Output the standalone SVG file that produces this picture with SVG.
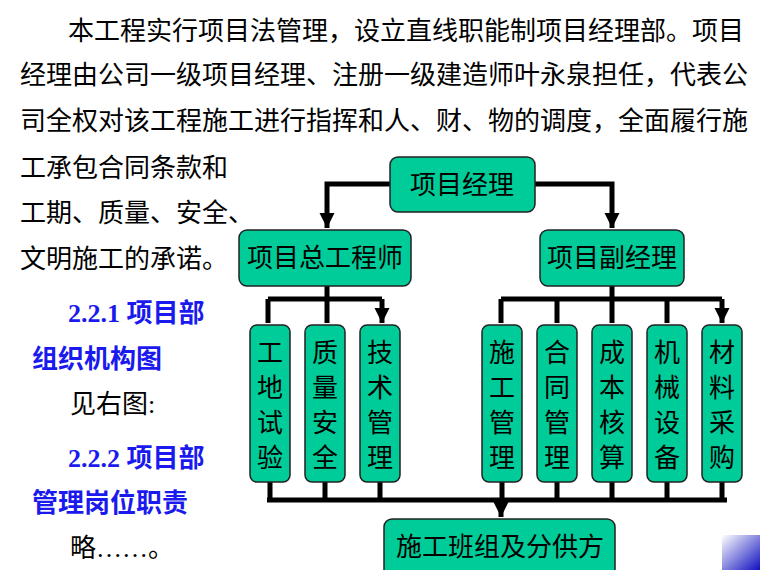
<svg xmlns="http://www.w3.org/2000/svg" width="760" height="570" viewBox="0 0 760 570">
<style>
.p{font-family:"Liberation Serif","Noto Sans CJK SC",serif;font-size:26px;fill:#000}
.b{font-family:"Liberation Serif","Noto Sans CJK SC",serif;font-size:26px;fill:#1a1aee;font-weight:bold}
.bx{fill:#00cc99;stroke:#222;stroke-width:1.5}
.t{font-family:"Noto Sans CJK SC",sans-serif;font-size:26px;fill:#000;text-anchor:middle}
.c{stroke:#000;stroke-width:5;fill:none}
</style>
<defs>
<marker id="a" viewBox="0 0 10 10" refX="10" refY="5" markerWidth="3" markerHeight="3.4" orient="auto" markerUnits="strokeWidth"><path d="M0,0L10,5L0,10z" fill="#000"/></marker>
<linearGradient id="g" x1="0" y1="0" x2="1" y2="1"><stop offset="0" stop-color="#fff"/><stop offset="1" stop-color="#1010c0"/></linearGradient>
</defs>
<rect width="760" height="570" fill="#fff"/>
<text class="p" x="68" y="40">本工程实行项目法管理，设立直线职能制项目经理部。项目</text>
<text class="p" x="20" y="84">经理由公司一级项目经理、注册一级建造师叶永泉担任，代表公</text>
<text class="p" x="20" y="130">司全权对该工程施工进行指挥和人、财、物的调度，全面履行施</text>
<text class="p" x="20" y="177">工承包合同条款和</text>
<text class="p" x="20" y="222">工期、质量、安全、</text>
<text class="p" x="20" y="268">文明施工的承诺。</text>
<text class="b" x="68" y="322">2.2.1 项目部</text>
<text class="b" x="32" y="368" font-weight="normal">组织机构图</text>
<text class="p" x="70" y="413">见右图:</text>
<text class="b" x="68" y="467">2.2.2 项目部</text>
<text class="b" x="32" y="512" font-weight="normal">管理岗位职责</text>
<text class="p" x="70" y="557">略……。</text>
<rect x="722" y="535" width="38" height="35" fill="url(#g)"/>
<g id="connectors">
<path class="c" d="M390,184H327V228" marker-end="url(#a)"/>
<path class="c" d="M535,184H612V228" marker-end="url(#a)"/>
<path class="c" d="M327,286V299H268M327,299H382"/>
<path class="c" d="M268,299V323M327,299V323M382,299V323" marker-end="url(#a)"/>
<path class="c" d="M612,286V299H501M612,299H722"/>
<path class="c" d="M501,299V323M557,299V323M612,299V323M667,299V323M722,299V323" marker-end="url(#a)"/>
<path class="c" d="M270,482V500M325,482V500M380,482V500M502,482V500M557,482V500M612,482V500M667,482V500M722,482V500M267,500H727"/>
<path class="c" d="M501,500V517" marker-end="url(#a)"/>
</g>
<g id="n0"><rect class="bx" x="390" y="157" width="145" height="55" rx="8"/><text class="t" x="462" y="194">项目经理</text></g>
<g id="n1"><rect class="bx" x="239" y="230" width="172" height="56" rx="8"/><text class="t" x="325" y="267">项目总工程师</text></g>
<g id="n2"><rect class="bx" x="540" y="230" width="144" height="56" rx="8"/><text class="t" x="612" y="267">项目副经理</text></g>
<g id="n3"><rect class="bx" x="250" y="325" width="40" height="157" rx="7"/><text class="t" x="270" y="362">工</text><text class="t" x="270" y="397">地</text><text class="t" x="270" y="432">试</text><text class="t" x="270" y="467">验</text></g>
<g id="n4"><rect class="bx" x="305" y="325" width="40" height="157" rx="7"/><text class="t" x="325" y="362">质</text><text class="t" x="325" y="397">量</text><text class="t" x="325" y="432">安</text><text class="t" x="325" y="467">全</text></g>
<g id="n5"><rect class="bx" x="360" y="325" width="40" height="157" rx="7"/><text class="t" x="380" y="362">技</text><text class="t" x="380" y="397">术</text><text class="t" x="380" y="432">管</text><text class="t" x="380" y="467">理</text></g>
<g id="n6"><rect class="bx" x="482" y="325" width="40" height="157" rx="7"/><text class="t" x="502" y="362">施</text><text class="t" x="502" y="397">工</text><text class="t" x="502" y="432">管</text><text class="t" x="502" y="467">理</text></g>
<g id="n7"><rect class="bx" x="537" y="325" width="40" height="157" rx="7"/><text class="t" x="557" y="362">合</text><text class="t" x="557" y="397">同</text><text class="t" x="557" y="432">管</text><text class="t" x="557" y="467">理</text></g>
<g id="n8"><rect class="bx" x="592" y="325" width="40" height="157" rx="7"/><text class="t" x="612" y="362">成</text><text class="t" x="612" y="397">本</text><text class="t" x="612" y="432">核</text><text class="t" x="612" y="467">算</text></g>
<g id="n9"><rect class="bx" x="647" y="325" width="40" height="157" rx="7"/><text class="t" x="667" y="362">机</text><text class="t" x="667" y="397">械</text><text class="t" x="667" y="432">设</text><text class="t" x="667" y="467">备</text></g>
<g id="n10"><rect class="bx" x="702" y="325" width="40" height="157" rx="7"/><text class="t" x="722" y="362">材</text><text class="t" x="722" y="397">料</text><text class="t" x="722" y="432">采</text><text class="t" x="722" y="467">购</text></g>
<g id="n11"><rect class="bx" x="384" y="519" width="231" height="60" rx="8"/><text class="t" x="500" y="556">施工班组及分供方</text></g>
</svg>
